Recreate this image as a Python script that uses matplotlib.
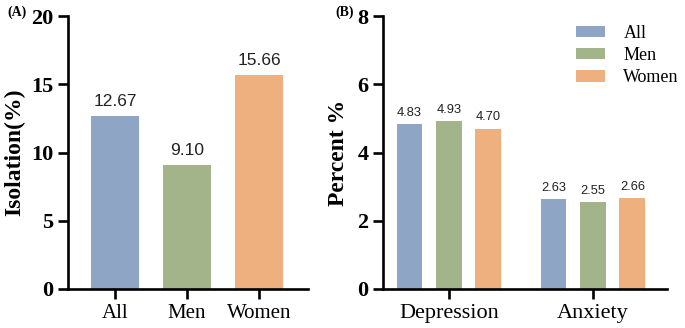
import matplotlib.pyplot as plt
import numpy as np

# panel A: isolation
groups = ['All', 'Men', 'Women']
isolation = [12.67, 9.10, 15.66]

# panel B: depression / anxiety
outcomes = ['Depression', 'Anxiety']
all_pct = [4.83, 2.63]
men_pct = [4.93, 2.55]
women_pct = [4.70, 2.66]

colors = ['#8FA5C5', '#A3B48A', '#EEB07E']
serif = ['Liberation Serif', 'DejaVu Serif']
sans = ['Liberation Sans', 'DejaVu Sans']

fig = plt.figure(figsize=(6.85, 3.28), dpi=100)
W, H = 685, 328
ax1 = fig.add_axes([68 / W, 39 / H, 240 / W, 273 / H])
ax2 = fig.add_axes([383 / W, 39 / H, 284 / W, 273 / H])


def style(ax):
    for s in ['top', 'right']:
        ax.spines[s].set_visible(False)
    for s in ['left', 'bottom']:
        ax.spines[s].set_linewidth(1.9)
    ax.tick_params(axis='both', width=1.9, length=7, direction='out')
    for lab in ax.get_yticklabels():
        lab.set_family(serif)
        lab.set_fontweight('bold')
        lab.set_fontsize(16)
    for lab in ax.get_xticklabels():
        lab.set_family(serif)
        lab.set_fontsize(15)


# ---- (A)
x = np.arange(len(groups))
bars = ax1.bar(x, isolation, width=0.667, color=colors)
for b, v in zip(bars, isolation):
    ax1.text(b.get_x() + b.get_width() / 2, v + 0.5, f'{v:.2f}',
             ha='center', va='bottom', fontsize=12.5, family=sans, color='#222222')
ax1.set_xlim(-0.653, 2.68)
ax1.set_ylim(0, 20)
ax1.set_yticks([0, 5, 10, 15, 20])
ax1.set_xticks(x)
ax1.set_xticklabels(groups)
ax1.set_ylabel('Isolation(%)', family=serif, fontweight='bold', fontsize=17, labelpad=4)
style(ax1)
fig.text(7 / W, 1 - 12 / H, '(A)', family=serif, fontweight='bold', fontsize=10, va='center')

# ---- (B)
xg = np.arange(len(outcomes))
off = 0.274
wd = 0.18
series = [('All', all_pct), ('Men', men_pct), ('Women', women_pct)]
for i, (name, vals) in enumerate(series):
    bs = ax2.bar(xg + (i - 1) * off, vals, width=wd, color=colors[i], label=name)
    for b, v in zip(bs, vals):
        ax2.text(b.get_x() + b.get_width() / 2, v + 0.15, f'{v:.2f}',
                 ha='center', va='bottom', fontsize=9.3, family=sans, color='#222222')
ax2.set_xlim(-0.458, 1.514)
ax2.set_ylim(0, 8)
ax2.set_yticks([0, 2, 4, 6, 8])
ax2.set_xticks(xg)
ax2.set_xticklabels(outcomes)
ax2.set_ylabel('Percent %', family=serif, fontweight='bold', fontsize=17, labelpad=6)
style(ax2)
for lab in ax2.get_xticklabels():
    lab.set_fontsize(16)
ax2.legend(loc='upper right', bbox_to_anchor=(688 / W, 1 - 16 / H),
           bbox_transform=fig.transFigure, frameon=False, borderpad=0,
           prop={'family': serif, 'size': 13}, handlelength=1.65, handleheight=0.6,
           handletextpad=1.0, labelspacing=0.28)
fig.text(335 / W, 1 - 12 / H, '(B)', family=serif, fontweight='bold', fontsize=10, va='center')

fig.savefig('out.png', dpi=100)
